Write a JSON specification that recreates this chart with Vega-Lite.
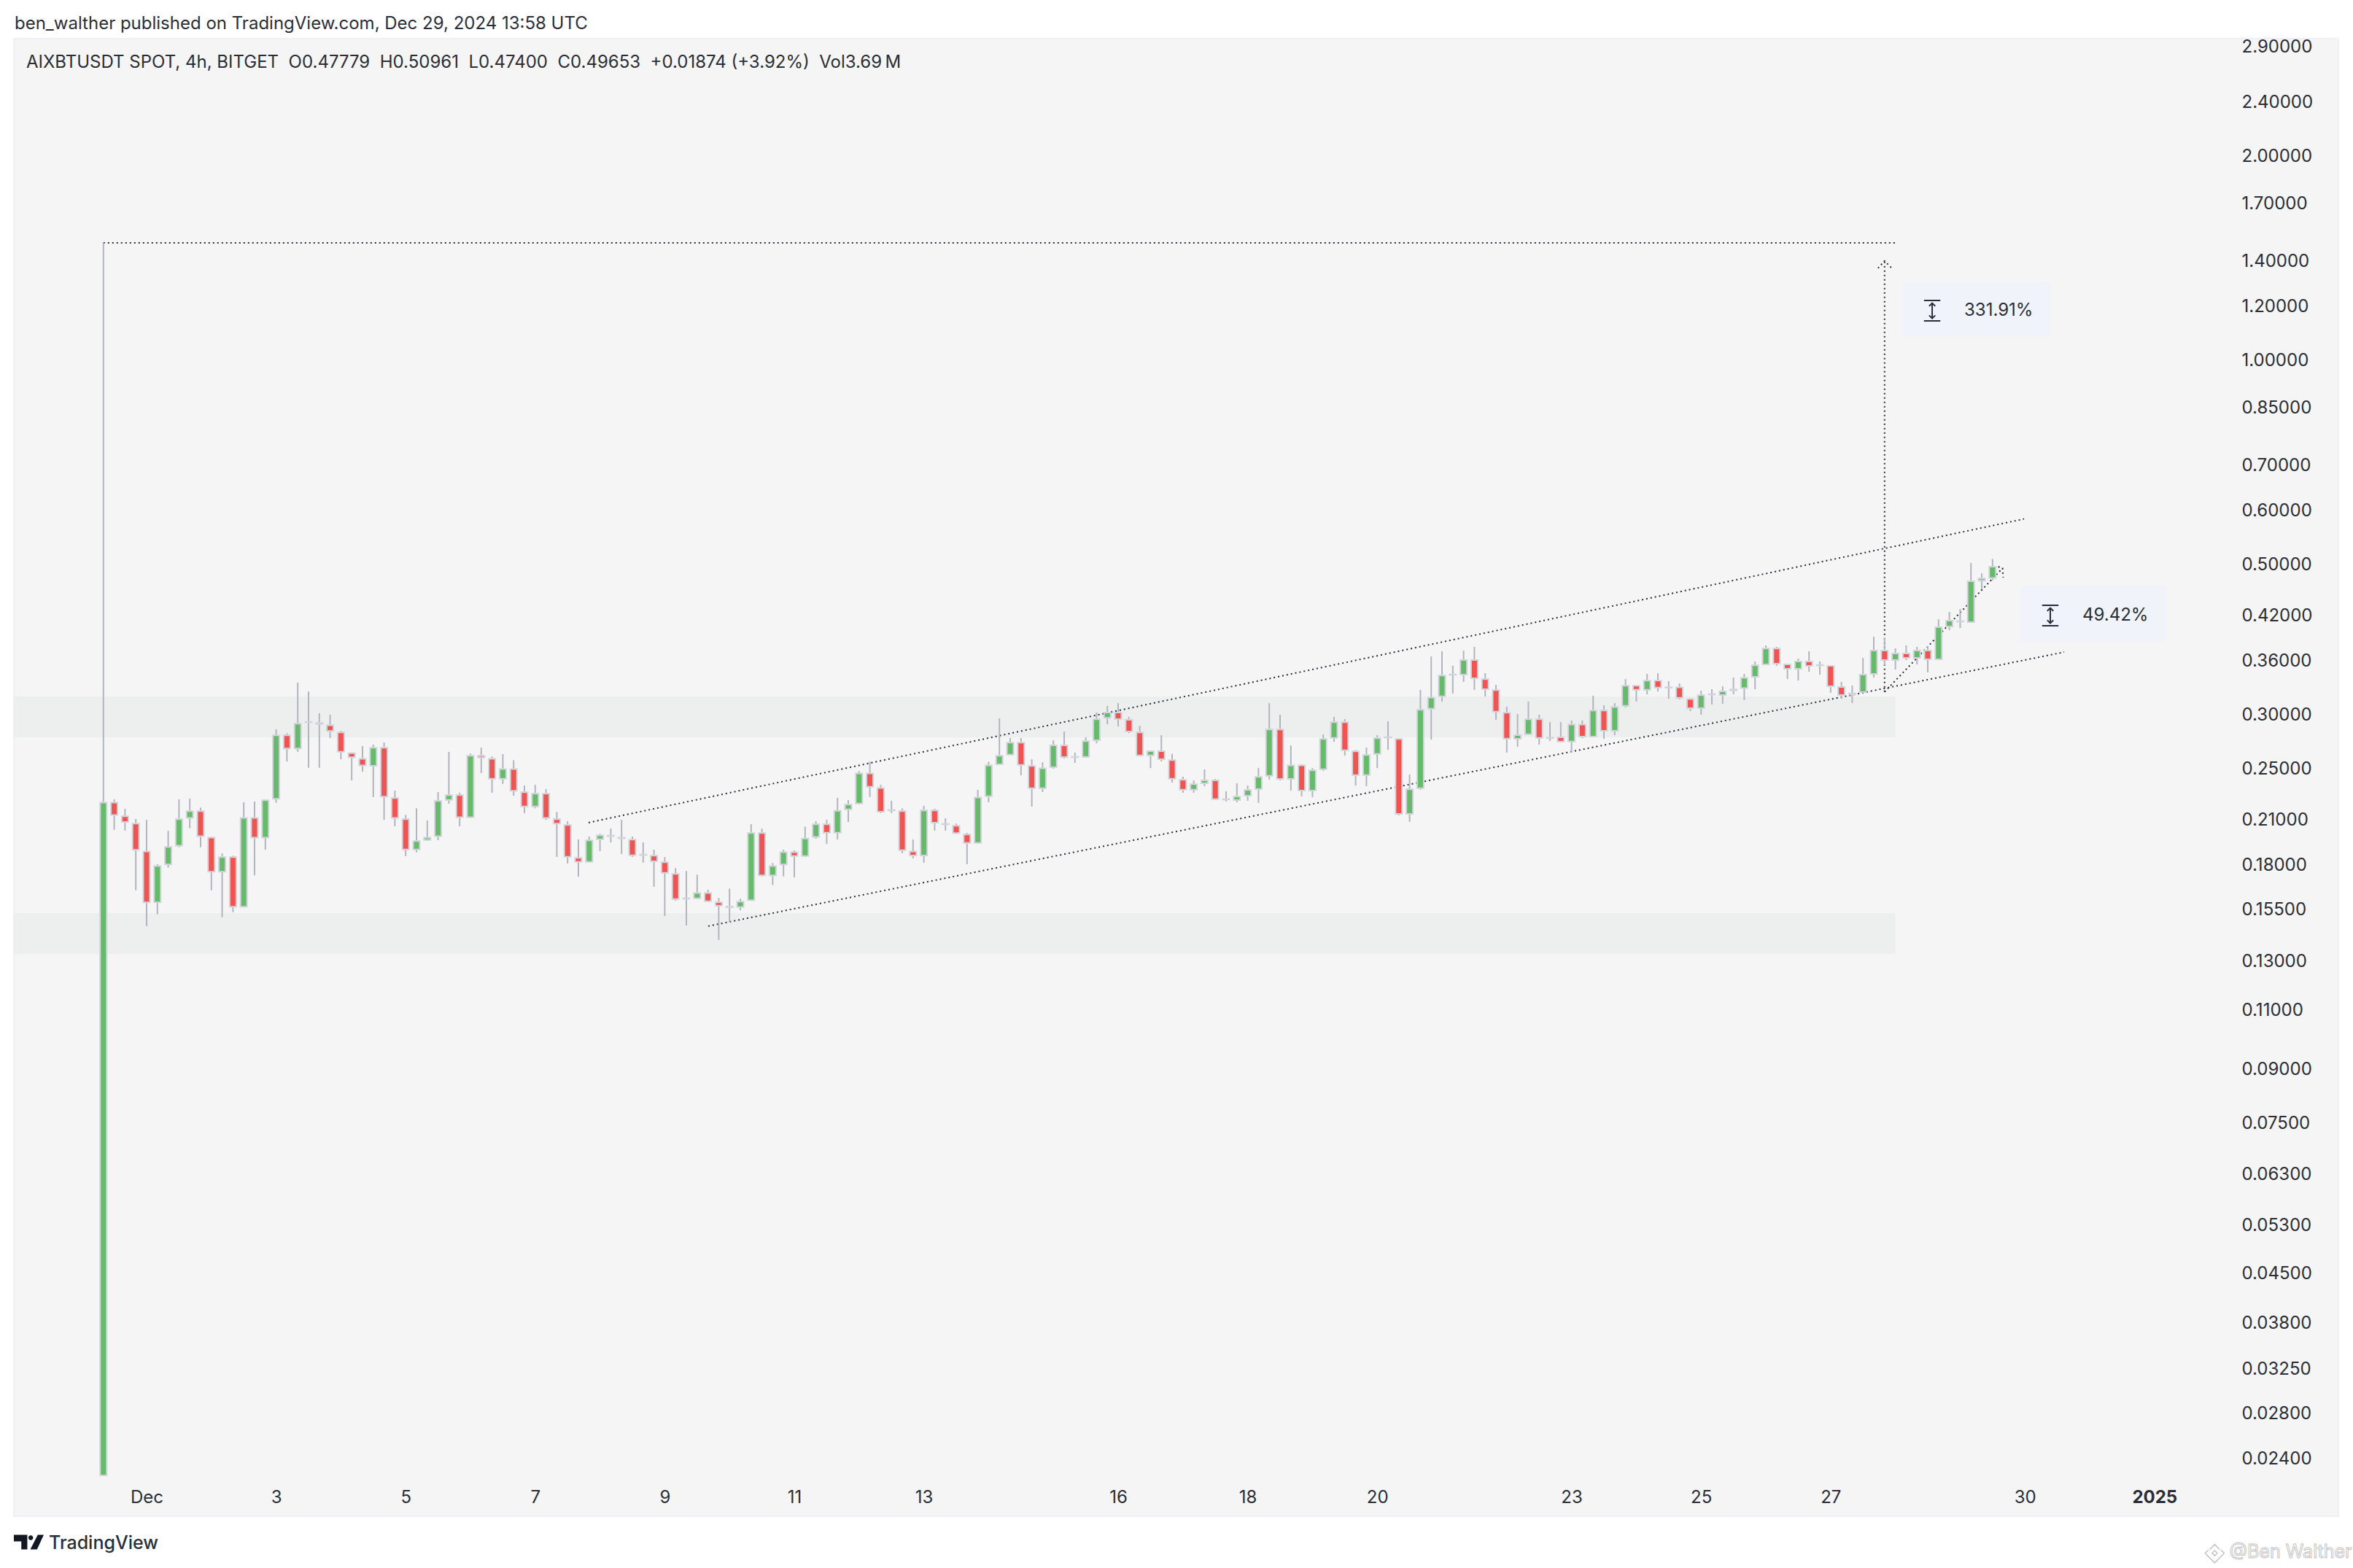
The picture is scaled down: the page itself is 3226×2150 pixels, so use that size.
{"$schema":"https://vega.github.io/schema/vega-lite/v6.json","autosize":{"type":"none"},"padding":{"left":19,"top":53,"right":20,"bottom":71},"width":3187,"height":2026,"background":"#ffffff","view":{"fill":"#f5f5f5","stroke":"#eef0f3","strokeWidth":2},
"title":{"text":"ben_walther published on TradingView.com, Dec 29, 2024 13:58 UTC","anchor":"start","frame":"group","font":"Inter","fontSize":24,"fontWeight":400,"color":"#2a2e39","offset":7,"dx":1},
"datasets":{"candles":[
{"t":"2024-11-30T08:00:00Z","o":0.0227,"h":1.4906,"l":0.0227,"c":0.2229},
{"t":"2024-11-30T12:00:00Z","o":0.2229,"h":0.2253,"l":0.2032,"c":0.2137},
{"t":"2024-11-30T16:00:00Z","o":0.2127,"h":0.2182,"l":0.2026,"c":0.2087},
{"t":"2024-11-30T20:00:00Z","o":0.2075,"h":0.2108,"l":0.1655,"c":0.1898},
{"t":"2024-12-01T00:00:00Z","o":0.1888,"h":0.2102,"l":0.1465,"c":0.1588},
{"t":"2024-12-01T04:00:00Z","o":0.1588,"h":0.1808,"l":0.1525,"c":0.1797},
{"t":"2024-12-01T08:00:00Z","o":0.1806,"h":0.2025,"l":0.1787,"c":0.1917},
{"t":"2024-12-01T12:00:00Z","o":0.1926,"h":0.2253,"l":0.1915,"c":0.2106},
{"t":"2024-12-01T16:00:00Z","o":0.2116,"h":0.2259,"l":0.2043,"c":0.2164},
{"t":"2024-12-01T20:00:00Z","o":0.2164,"h":0.2191,"l":0.1915,"c":0.1989},
{"t":"2024-12-02T00:00:00Z","o":0.1979,"h":0.1984,"l":0.1655,"c":0.1762},
{"t":"2024-12-02T04:00:00Z","o":0.1762,"h":0.1876,"l":0.1510,"c":0.1852},
{"t":"2024-12-02T08:00:00Z","o":0.1852,"h":0.1861,"l":0.1536,"c":0.1565},
{"t":"2024-12-02T12:00:00Z","o":0.1565,"h":0.2231,"l":0.1561,"c":0.2116},
{"t":"2024-12-02T16:00:00Z","o":0.2116,"h":0.2237,"l":0.1741,"c":0.1979},
{"t":"2024-12-02T20:00:00Z","o":0.1979,"h":0.2251,"l":0.1899,"c":0.2246},
{"t":"2024-12-03T00:00:00Z","o":0.2257,"h":0.2858,"l":0.2227,"c":0.2800},
{"t":"2024-12-03T04:00:00Z","o":0.2800,"h":0.2820,"l":0.2563,"c":0.2678},
{"t":"2024-12-03T08:00:00Z","o":0.2678,"h":0.3349,"l":0.2648,"c":0.2913},
{"t":"2024-12-03T12:00:00Z","o":0.2931,"h":0.3250,"l":0.2508,"c":0.2927},
{"t":"2024-12-03T16:00:00Z","o":0.2920,"h":0.3018,"l":0.2508,"c":0.2910},
{"t":"2024-12-03T20:00:00Z","o":0.2898,"h":0.3003,"l":0.2774,"c":0.2842},
{"t":"2024-12-04T00:00:00Z","o":0.2828,"h":0.2844,"l":0.2582,"c":0.2648},
{"t":"2024-12-04T04:00:00Z","o":0.2636,"h":0.2642,"l":0.2403,"c":0.2599},
{"t":"2024-12-04T08:00:00Z","o":0.2586,"h":0.2700,"l":0.2475,"c":0.2529},
{"t":"2024-12-04T12:00:00Z","o":0.2525,"h":0.2713,"l":0.2270,"c":0.2684},
{"t":"2024-12-04T16:00:00Z","o":0.2684,"h":0.2733,"l":0.2102,"c":0.2274},
{"t":"2024-12-04T20:00:00Z","o":0.2263,"h":0.2321,"l":0.2056,"c":0.2116},
{"t":"2024-12-05T00:00:00Z","o":0.2106,"h":0.2137,"l":0.1858,"c":0.1901},
{"t":"2024-12-05T04:00:00Z","o":0.1901,"h":0.2186,"l":0.1882,"c":0.1955},
{"t":"2024-12-05T08:00:00Z","o":0.1963,"h":0.2097,"l":0.1958,"c":0.1979},
{"t":"2024-12-05T12:00:00Z","o":0.1989,"h":0.2310,"l":0.1961,"c":0.2241},
{"t":"2024-12-05T16:00:00Z","o":0.2249,"h":0.2647,"l":0.2220,"c":0.2285},
{"t":"2024-12-05T20:00:00Z","o":0.2285,"h":0.2304,"l":0.2056,"c":0.2121},
{"t":"2024-12-06T00:00:00Z","o":0.2121,"h":0.2632,"l":0.2116,"c":0.2612},
{"t":"2024-12-06T04:00:00Z","o":0.2612,"h":0.2686,"l":0.2463,"c":0.2597},
{"t":"2024-12-06T08:00:00Z","o":0.2586,"h":0.2606,"l":0.2304,"c":0.2417},
{"t":"2024-12-06T12:00:00Z","o":0.2417,"h":0.2627,"l":0.2374,"c":0.2498},
{"t":"2024-12-06T16:00:00Z","o":0.2498,"h":0.2574,"l":0.2281,"c":0.2320},
{"t":"2024-12-06T20:00:00Z","o":0.2308,"h":0.2361,"l":0.2150,"c":0.2200},
{"t":"2024-12-07T00:00:00Z","o":0.2200,"h":0.2367,"l":0.2186,"c":0.2297},
{"t":"2024-12-07T04:00:00Z","o":0.2297,"h":0.2333,"l":0.2102,"c":0.2116},
{"t":"2024-12-07T08:00:00Z","o":0.2106,"h":0.2159,"l":0.1853,"c":0.2075},
{"t":"2024-12-07T12:00:00Z","o":0.2065,"h":0.2092,"l":0.1812,"c":0.1854},
{"t":"2024-12-07T16:00:00Z","o":0.1847,"h":0.1966,"l":0.1733,"c":0.1822},
{"t":"2024-12-07T20:00:00Z","o":0.1822,"h":0.1986,"l":0.1818,"c":0.1960},
{"t":"2024-12-08T00:00:00Z","o":0.1968,"h":0.2004,"l":0.1890,"c":0.1994},
{"t":"2024-12-08T04:00:00Z","o":0.1992,"h":0.2041,"l":0.1947,"c":0.1989},
{"t":"2024-12-08T08:00:00Z","o":0.1979,"h":0.2102,"l":0.1871,"c":0.1974},
{"t":"2024-12-08T12:00:00Z","o":0.1965,"h":0.1986,"l":0.1853,"c":0.1863},
{"t":"2024-12-08T16:00:00Z","o":0.1868,"h":0.1947,"l":0.1818,"c":0.1865},
{"t":"2024-12-08T20:00:00Z","o":0.1861,"h":0.1899,"l":0.1674,"c":0.1826},
{"t":"2024-12-09T00:00:00Z","o":0.1820,"h":0.1852,"l":0.1516,"c":0.1756},
{"t":"2024-12-09T04:00:00Z","o":0.1749,"h":0.1784,"l":0.1597,"c":0.1606},
{"t":"2024-12-09T08:00:00Z","o":0.1610,"h":0.1767,"l":0.1468,"c":0.1608},
{"t":"2024-12-09T12:00:00Z","o":0.1610,"h":0.1745,"l":0.1606,"c":0.1639},
{"t":"2024-12-09T16:00:00Z","o":0.1639,"h":0.1658,"l":0.1590,"c":0.1594},
{"t":"2024-12-09T20:00:00Z","o":0.1588,"h":0.1612,"l":0.1398,"c":0.1571},
{"t":"2024-12-10T00:00:00Z","o":0.1566,"h":0.1664,"l":0.1485,"c":0.1562},
{"t":"2024-12-10T04:00:00Z","o":0.1563,"h":0.1608,"l":0.1546,"c":0.1592},
{"t":"2024-12-10T08:00:00Z","o":0.1600,"h":0.2071,"l":0.1596,"c":0.2009},
{"t":"2024-12-10T12:00:00Z","o":0.2009,"h":0.2040,"l":0.1735,"c":0.1741},
{"t":"2024-12-10T16:00:00Z","o":0.1741,"h":0.1815,"l":0.1684,"c":0.1797},
{"t":"2024-12-10T20:00:00Z","o":0.1806,"h":0.1899,"l":0.1735,"c":0.1883},
{"t":"2024-12-11T00:00:00Z","o":0.1883,"h":0.1895,"l":0.1729,"c":0.1859},
{"t":"2024-12-11T04:00:00Z","o":0.1859,"h":0.2054,"l":0.1854,"c":0.1973},
{"t":"2024-12-11T08:00:00Z","o":0.1983,"h":0.2092,"l":0.1971,"c":0.2070},
{"t":"2024-12-11T12:00:00Z","o":0.2070,"h":0.2102,"l":0.1937,"c":0.2012},
{"t":"2024-12-11T16:00:00Z","o":0.2012,"h":0.2265,"l":0.1966,"c":0.2167},
{"t":"2024-12-11T20:00:00Z","o":0.2178,"h":0.2248,"l":0.2087,"c":0.2213},
{"t":"2024-12-12T00:00:00Z","o":0.2222,"h":0.2481,"l":0.2216,"c":0.2461},
{"t":"2024-12-12T04:00:00Z","o":0.2461,"h":0.2561,"l":0.2270,"c":0.2352},
{"t":"2024-12-12T08:00:00Z","o":0.2342,"h":0.2367,"l":0.2150,"c":0.2160},
{"t":"2024-12-12T12:00:00Z","o":0.2173,"h":0.2242,"l":0.2150,"c":0.2170},
{"t":"2024-12-12T16:00:00Z","o":0.2164,"h":0.2186,"l":0.1876,"c":0.1896},
{"t":"2024-12-12T20:00:00Z","o":0.1888,"h":0.1966,"l":0.1844,"c":0.1862},
{"t":"2024-12-13T00:00:00Z","o":0.1862,"h":0.2204,"l":0.1816,"c":0.2170},
{"t":"2024-12-13T04:00:00Z","o":0.2170,"h":0.2182,"l":0.2026,"c":0.2082},
{"t":"2024-12-13T08:00:00Z","o":0.2073,"h":0.2113,"l":0.2026,"c":0.2070},
{"t":"2024-12-13T12:00:00Z","o":0.2060,"h":0.2075,"l":0.2004,"c":0.2009},
{"t":"2024-12-13T16:00:00Z","o":0.1999,"h":0.2011,"l":0.1808,"c":0.1944},
{"t":"2024-12-13T20:00:00Z","o":0.1944,"h":0.2327,"l":0.1939,"c":0.2268},
{"t":"2024-12-14T00:00:00Z","o":0.2277,"h":0.2559,"l":0.2231,"c":0.2529},
{"t":"2024-12-14T04:00:00Z","o":0.2538,"h":0.2966,"l":0.2533,"c":0.2612},
{"t":"2024-12-14T08:00:00Z","o":0.2623,"h":0.2774,"l":0.2616,"c":0.2731},
{"t":"2024-12-14T12:00:00Z","o":0.2731,"h":0.2774,"l":0.2445,"c":0.2533},
{"t":"2024-12-14T16:00:00Z","o":0.2523,"h":0.2582,"l":0.2198,"c":0.2340},
{"t":"2024-12-14T20:00:00Z","o":0.2340,"h":0.2556,"l":0.2310,"c":0.2504},
{"t":"2024-12-15T00:00:00Z","o":0.2512,"h":0.2753,"l":0.2500,"c":0.2706},
{"t":"2024-12-15T04:00:00Z","o":0.2706,"h":0.2837,"l":0.2588,"c":0.2601},
{"t":"2024-12-15T08:00:00Z","o":0.2603,"h":0.2640,"l":0.2550,"c":0.2599},
{"t":"2024-12-15T12:00:00Z","o":0.2603,"h":0.2781,"l":0.2597,"c":0.2745},
{"t":"2024-12-15T16:00:00Z","o":0.2753,"h":0.3025,"l":0.2726,"c":0.2957},
{"t":"2024-12-15T20:00:00Z","o":0.2972,"h":0.3093,"l":0.2908,"c":0.3025},
{"t":"2024-12-16T00:00:00Z","o":0.3025,"h":0.3124,"l":0.2886,"c":0.2959},
{"t":"2024-12-16T04:00:00Z","o":0.2951,"h":0.2981,"l":0.2822,"c":0.2837},
{"t":"2024-12-16T08:00:00Z","o":0.2828,"h":0.2893,"l":0.2610,"c":0.2616},
{"t":"2024-12-16T12:00:00Z","o":0.2616,"h":0.2660,"l":0.2506,"c":0.2653},
{"t":"2024-12-16T16:00:00Z","o":0.2653,"h":0.2802,"l":0.2563,"c":0.2582},
{"t":"2024-12-16T20:00:00Z","o":0.2574,"h":0.2629,"l":0.2385,"c":0.2417},
{"t":"2024-12-17T00:00:00Z","o":0.2407,"h":0.2433,"l":0.2304,"c":0.2329},
{"t":"2024-12-17T04:00:00Z","o":0.2329,"h":0.2403,"l":0.2304,"c":0.2372},
{"t":"2024-12-17T08:00:00Z","o":0.2380,"h":0.2494,"l":0.2356,"c":0.2403},
{"t":"2024-12-17T12:00:00Z","o":0.2403,"h":0.2415,"l":0.2249,"c":0.2255},
{"t":"2024-12-17T16:00:00Z","o":0.2255,"h":0.2316,"l":0.2237,"c":0.2252},
{"t":"2024-12-17T20:00:00Z","o":0.2248,"h":0.2380,"l":0.2231,"c":0.2274},
{"t":"2024-12-18T00:00:00Z","o":0.2281,"h":0.2361,"l":0.2242,"c":0.2325},
{"t":"2024-12-18T04:00:00Z","o":0.2333,"h":0.2506,"l":0.2226,"c":0.2431},
{"t":"2024-12-18T08:00:00Z","o":0.2441,"h":0.3124,"l":0.2409,"c":0.2856},
{"t":"2024-12-18T12:00:00Z","o":0.2856,"h":0.3003,"l":0.2403,"c":0.2415},
{"t":"2024-12-18T16:00:00Z","o":0.2415,"h":0.2706,"l":0.2321,"c":0.2529},
{"t":"2024-12-18T20:00:00Z","o":0.2529,"h":0.2538,"l":0.2276,"c":0.2321},
{"t":"2024-12-19T00:00:00Z","o":0.2321,"h":0.2506,"l":0.2270,"c":0.2486},
{"t":"2024-12-19T04:00:00Z","o":0.2496,"h":0.2809,"l":0.2481,"c":0.2765},
{"t":"2024-12-19T08:00:00Z","o":0.2776,"h":0.2981,"l":0.2740,"c":0.2927},
{"t":"2024-12-19T12:00:00Z","o":0.2927,"h":0.2959,"l":0.2614,"c":0.2662},
{"t":"2024-12-19T16:00:00Z","o":0.2651,"h":0.2666,"l":0.2361,"c":0.2447},
{"t":"2024-12-19T20:00:00Z","o":0.2447,"h":0.2686,"l":0.2356,"c":0.2619},
{"t":"2024-12-20T00:00:00Z","o":0.2629,"h":0.2802,"l":0.2506,"c":0.2772},
{"t":"2024-12-20T04:00:00Z","o":0.2783,"h":0.2937,"l":0.2666,"c":0.2779},
{"t":"2024-12-20T08:00:00Z","o":0.2765,"h":0.2772,"l":0.2134,"c":0.2145},
{"t":"2024-12-20T12:00:00Z","o":0.2145,"h":0.2451,"l":0.2087,"c":0.2331},
{"t":"2024-12-20T16:00:00Z","o":0.2340,"h":0.3267,"l":0.2327,"c":0.3053},
{"t":"2024-12-20T20:00:00Z","o":0.3065,"h":0.3660,"l":0.2760,"c":0.3184},
{"t":"2024-12-21T00:00:00Z","o":0.3197,"h":0.3725,"l":0.3140,"c":0.3430},
{"t":"2024-12-21T04:00:00Z","o":0.3444,"h":0.3545,"l":0.3226,"c":0.3439},
{"t":"2024-12-21T08:00:00Z","o":0.3441,"h":0.3734,"l":0.3357,"c":0.3615},
{"t":"2024-12-21T12:00:00Z","o":0.3615,"h":0.3781,"l":0.3267,"c":0.3398},
{"t":"2024-12-21T16:00:00Z","o":0.3388,"h":0.3458,"l":0.3195,"c":0.3275},
{"t":"2024-12-21T20:00:00Z","o":0.3264,"h":0.3323,"l":0.2951,"c":0.3035},
{"t":"2024-12-22T00:00:00Z","o":0.3023,"h":0.3086,"l":0.2640,"c":0.2769},
{"t":"2024-12-22T04:00:00Z","o":0.2767,"h":0.3010,"l":0.2693,"c":0.2802},
{"t":"2024-12-22T08:00:00Z","o":0.2811,"h":0.3140,"l":0.2804,"c":0.2957},
{"t":"2024-12-22T12:00:00Z","o":0.2957,"h":0.3003,"l":0.2713,"c":0.2776},
{"t":"2024-12-22T16:00:00Z","o":0.2779,"h":0.2929,"l":0.2747,"c":0.2774},
{"t":"2024-12-22T20:00:00Z","o":0.2781,"h":0.2929,"l":0.2735,"c":0.2742},
{"t":"2024-12-23T00:00:00Z","o":0.2742,"h":0.2944,"l":0.2640,"c":0.2905},
{"t":"2024-12-23T04:00:00Z","o":0.2905,"h":0.2944,"l":0.2774,"c":0.2788},
{"t":"2024-12-23T08:00:00Z","o":0.2788,"h":0.3203,"l":0.2781,"c":0.3046},
{"t":"2024-12-23T12:00:00Z","o":0.3046,"h":0.3101,"l":0.2767,"c":0.2844},
{"t":"2024-12-23T16:00:00Z","o":0.2844,"h":0.3124,"l":0.2802,"c":0.3083},
{"t":"2024-12-23T20:00:00Z","o":0.3096,"h":0.3390,"l":0.3078,"c":0.3313},
{"t":"2024-12-24T00:00:00Z","o":0.3313,"h":0.3318,"l":0.3140,"c":0.3269},
{"t":"2024-12-24T04:00:00Z","o":0.3269,"h":0.3450,"l":0.3218,"c":0.3371},
{"t":"2024-12-24T08:00:00Z","o":0.3371,"h":0.3458,"l":0.3250,"c":0.3293},
{"t":"2024-12-24T12:00:00Z","o":0.3296,"h":0.3365,"l":0.3171,"c":0.3291},
{"t":"2024-12-24T16:00:00Z","o":0.3296,"h":0.3340,"l":0.3163,"c":0.3181},
{"t":"2024-12-24T20:00:00Z","o":0.3168,"h":0.3176,"l":0.3040,"c":0.3070},
{"t":"2024-12-25T00:00:00Z","o":0.3070,"h":0.3258,"l":0.3003,"c":0.3208},
{"t":"2024-12-25T04:00:00Z","o":0.3221,"h":0.3275,"l":0.3109,"c":0.3216},
{"t":"2024-12-25T08:00:00Z","o":0.3210,"h":0.3307,"l":0.3116,"c":0.3250},
{"t":"2024-12-25T12:00:00Z","o":0.3272,"h":0.3407,"l":0.3218,"c":0.3261},
{"t":"2024-12-25T16:00:00Z","o":0.3288,"h":0.3450,"l":0.3155,"c":0.3404},
{"t":"2024-12-25T20:00:00Z","o":0.3415,"h":0.3598,"l":0.3275,"c":0.3551},
{"t":"2024-12-26T00:00:00Z","o":0.3562,"h":0.3800,"l":0.3553,"c":0.3759},
{"t":"2024-12-26T04:00:00Z","o":0.3759,"h":0.3781,"l":0.3545,"c":0.3571},
{"t":"2024-12-26T08:00:00Z","o":0.3562,"h":0.3571,"l":0.3390,"c":0.3510},
{"t":"2024-12-26T12:00:00Z","o":0.3510,"h":0.3633,"l":0.3373,"c":0.3598},
{"t":"2024-12-26T16:00:00Z","o":0.3598,"h":0.3725,"l":0.3475,"c":0.3545},
{"t":"2024-12-26T20:00:00Z","o":0.3556,"h":0.3598,"l":0.3441,"c":0.3551},
{"t":"2024-12-27T00:00:00Z","o":0.3545,"h":0.3553,"l":0.3234,"c":0.3307},
{"t":"2024-12-27T04:00:00Z","o":0.3299,"h":0.3357,"l":0.3171,"c":0.3210},
{"t":"2024-12-27T08:00:00Z","o":0.3216,"h":0.3315,"l":0.3124,"c":0.3229},
{"t":"2024-12-27T12:00:00Z","o":0.3242,"h":0.3642,"l":0.3234,"c":0.3441},
{"t":"2024-12-27T16:00:00Z","o":0.3450,"h":0.3914,"l":0.3407,"c":0.3734},
{"t":"2024-12-27T20:00:00Z","o":0.3734,"h":0.3895,"l":0.3553,"c":0.3615},
{"t":"2024-12-28T00:00:00Z","o":0.3615,"h":0.3762,"l":0.3501,"c":0.3697},
{"t":"2024-12-28T04:00:00Z","o":0.3697,"h":0.3800,"l":0.3615,"c":0.3642},
{"t":"2024-12-28T08:00:00Z","o":0.3642,"h":0.3781,"l":0.3562,"c":0.3734},
{"t":"2024-12-28T12:00:00Z","o":0.3734,"h":0.3790,"l":0.3467,"c":0.3624},
{"t":"2024-12-28T16:00:00Z","o":0.3624,"h":0.4153,"l":0.3615,"c":0.4042},
{"t":"2024-12-28T20:00:00Z","o":0.4052,"h":0.4257,"l":0.4002,"c":0.4133},
{"t":"2024-12-29T00:00:00Z","o":0.4126,"h":0.4300,"l":0.4032,"c":0.4119},
{"t":"2024-12-29T04:00:00Z","o":0.4113,"h":0.5030,"l":0.4103,"c":0.4725},
{"t":"2024-12-29T08:00:00Z","o":0.4735,"h":0.4852,"l":0.4597,"c":0.4769},
{"t":"2024-12-29T12:00:00Z","o":0.47779,"h":0.50961,"l":0.474,"c":0.49653}
],
"paths":[
{"g":"top","n":1,"t":"2024-11-30T08:00:00Z","p":1.4906},
{"g":"top","n":2,"t":"2024-12-28T00:00:00Z","p":1.4906},
{"g":"upper","n":1,"t":"2024-12-07T19:47:00Z","p":0.2082},
{"g":"upper","n":2,"t":"2024-12-29T23:40:00Z","p":0.5838},
{"g":"lower","n":1,"t":"2024-12-09T16:06:00Z","p":0.1465},
{"g":"lower","n":2,"t":"2024-12-30T14:33:00Z","p":0.3715},
{"g":"big","n":1,"t":"2024-12-27T20:00:00Z","p":0.3245},
{"g":"big","n":2,"t":"2024-12-27T20:00:00Z","p":1.4015},
{"g":"bighead","n":1,"t":"2024-12-27T17:34:00Z","p":1.368},
{"g":"bighead","n":2,"t":"2024-12-27T20:00:00Z","p":1.4015},
{"g":"bighead","n":3,"t":"2024-12-27T22:40:00Z","p":1.368},
{"g":"small","n":1,"t":"2024-12-27T20:00:00Z","p":0.3245},
{"g":"small","n":2,"t":"2024-12-29T15:42:00Z","p":0.4939},
{"g":"smallhead","n":1,"t":"2024-12-29T14:08:00Z","p":0.4964},
{"g":"smallhead","n":2,"t":"2024-12-29T15:42:00Z","p":0.4939},
{"g":"smallhead","n":3,"t":"2024-12-29T15:56:00Z","p":0.4785}
]},
"layer":[
{"data":{"values":[
{"t":"2024-11-28T22:49:00Z","t2":"2024-12-28T00:00:00Z","p":0.3194,"p2":0.2781},
{"t":"2024-11-28T22:49:00Z","t2":"2024-12-28T00:00:00Z","p":0.1531,"p2":0.1333}]},
"mark":{"type":"rect","fill":"#edefee","cornerRadius":2},
"encoding":{
"x":{"field":"t","type":"temporal","title":null,
"scale":{"type":"utc","domain":[1732834123200,1735934976000],"nice":false,"padding":0},
"axis":{"orient":"bottom","offset":-26,"domain":false,"ticks":false,"grid":false,"title":null,"labelPadding":0,"labelBaseline":"middle","labelFont":"Inter","labelFontSize":24,"labelColor":"#2a2e39","labelOverlap":false,"labelFlush":false,"labelAngle":0,
"values":[1733011200000,1733184000000,1733356800000,1733529600000,1733702400000,1733875200000,1734048000000,1734307200000,1734480000000,1734652800000,1734912000000,1735084800000,1735257600000,1735516800000,1735689600000],
"labelExpr":"utcmonth(datum.value)==0 ? '2025' : utcdate(datum.value)==1 ? 'Dec' : utcFormat(datum.value,'%-d')",
"labelFontWeight":{"condition":{"test":"utcmonth(datum.value)==0","value":700},"value":400}}},
"x2":{"field":"t2"},
"y":{"field":"p","type":"quantitative","title":null,
"scale":{"type":"log","domain":[0.019755,2.982],"nice":false,"padding":0},
"axis":{"orient":"right","offset":-133,"domain":false,"ticks":false,"grid":false,"title":null,"labelPadding":0,"labelAlign":"left","labelBaseline":"middle","labelFont":"Inter","labelFontSize":24,"labelColor":"#2a2e39","labelOverlap":false,"labelFlush":false,"format":".5f",
"values":[2.9,2.4,2.0,1.7,1.4,1.2,1.0,0.85,0.7,0.6,0.5,0.42,0.36,0.3,0.25,0.21,0.18,0.155,0.13,0.11,0.09,0.075,0.063,0.053,0.045,0.038,0.0325,0.028,0.024]}},
"y2":{"field":"p2"}}},
{"data":{"name":"paths"},
"mark":{"type":"line","stroke":"#2a2e39","strokeWidth":2,"strokeDash":[2,4],"interpolate":"linear"},
"encoding":{"x":{"field":"t","type":"temporal"},"y":{"field":"p","type":"quantitative"},"detail":{"field":"g"},"order":{"field":"n"}}},
{"data":{"name":"candles"},
"mark":{"type":"rule","stroke":"#b2b5be","strokeWidth":2},
"encoding":{"x":{"field":"t","type":"temporal"},"y":{"field":"l","type":"quantitative"},"y2":{"field":"h"}}},
{"data":{"name":"candles"},
"mark":{"type":"bar","size":9,"stroke":"#d1d4dc","strokeWidth":2},
"encoding":{"x":{"field":"t","type":"temporal"},"y":{"field":"o","type":"quantitative"},"y2":{"field":"c"},
"fill":{"condition":{"test":"datum.c>=datum.o","value":"#66bb6a"},"value":"#f05350"}}},
{"data":{"values":[
{"t":"2024-12-28T02:32:00Z","t2":"2024-12-30T09:33:00Z","p":1.3104,"p2":1.0829},
{"t":"2024-12-29T22:19:00Z","t2":"2025-01-01T04:22:00Z","p":0.4654,"p2":0.3841}]},
"mark":{"type":"rect","fill":"#f0f3fa","cornerRadius":5},
"encoding":{"x":{"field":"t","type":"temporal"},"x2":{"field":"t2"},"y":{"field":"p","type":"quantitative"},"y2":{"field":"p2"}}},
{"data":{"values":[{"t":"2024-12-28T13:38:00Z","p":1.1838},{"t":"2024-12-30T09:24:00Z","p":0.4205}]},
"mark":{"type":"point","shape":"M-.8,-1H.8M-.8,1H.8M0,-.75V.75M-.3,-.45L0,-.75L.3,-.45M-.3,.45L0,.75L.3,.45","filled":false,"size":784,"stroke":"#2a2e39","strokeWidth":2,"opacity":1},
"encoding":{"x":{"field":"t","type":"temporal"},"y":{"field":"p","type":"quantitative"}}},
{"data":{"values":[{"label":"331.91%","t":"2024-12-29T01:31:00Z","p":1.1838},{"label":"49.42%","t":"2024-12-30T21:17:00Z","p":0.4205}]},
"mark":{"type":"text","align":"left","baseline":"middle","font":"Inter","fontSize":24,"fill":"#2a2e39"},
"encoding":{"x":{"field":"t","type":"temporal"},"y":{"field":"p","type":"quantitative"},"text":{"field":"label"}}},
{"data":{"values":[{"label":"AIXBTUSDT SPOT, 4h, BITGET\u00a0\u00a0O0.47779\u00a0\u00a0H0.50961\u00a0\u00a0L0.47400\u00a0\u00a0C0.49653\u00a0\u00a0+0.01874 (+3.92%)\u00a0\u00a0Vol3.69\u2009M","t":"2024-11-29T03:24:00Z","p":2.748}]},
"mark":{"type":"text","align":"left","baseline":"middle","font":"Inter","fontSize":24,"fill":"#2a2e39"},
"encoding":{"x":{"field":"t","type":"temporal"},"y":{"field":"p","type":"quantitative"},"text":{"field":"label"}}},
{"data":{"values":[{"label":"TradingView","t":"2024-11-29T11:47:00Z","p":0.01802}]},
"mark":{"type":"text","align":"left","baseline":"middle","font":"Inter","fontSize":25,"fontWeight":500,"fill":"#2a2e39"},
"encoding":{"x":{"field":"t","type":"temporal"},"y":{"field":"p","type":"quantitative"},"text":{"field":"label"}}},
{"data":{"values":[{"t":"2024-11-29T04:21:00Z","p":0.01809}]},
"mark":{"type":"point","shape":"M-1,-.49H-.1V.49H-.5V-.05H-1ZM-.03,-.3a.16,.16 0 1,0 .32,0a.16,.16 0 1,0 -.32,0ZM.6,-.49H1L.55,.49H.1Z","filled":true,"size":1681,"fill":"#131722","opacity":1},
"encoding":{"x":{"field":"t","type":"temporal"},"y":{"field":"p","type":"quantitative"}}},
{"data":{"values":[{"label":"@Ben Walther","t":"2025-01-02T03:51:00Z","p":0.01749}]},
"mark":{"type":"text","align":"left","baseline":"middle","font":"Inter","fontSize":25,"fill":"#ffffff","stroke":"#c4c4c4","strokeWidth":1},
"encoding":{"x":{"field":"t","type":"temporal"},"y":{"field":"p","type":"quantitative"},"text":{"field":"label"}}},
{"data":{"values":[{"t":"2025-01-01T22:19:00Z","p":0.01746}]},
"mark":{"type":"point","shape":"M-.5,-.3L0,-.8L.5,-.3M-.95,.05L-.6,-.25M.95,.05L.6,-.25M-.25,.05L0,-.2L.25,.05L0,.3ZM-.95,.05L0,1L.95,.05","filled":false,"size":784,"stroke":"#c4c4c4","strokeWidth":1.5,"opacity":1},
"encoding":{"x":{"field":"t","type":"temporal"},"y":{"field":"p","type":"quantitative"}}}
]}
